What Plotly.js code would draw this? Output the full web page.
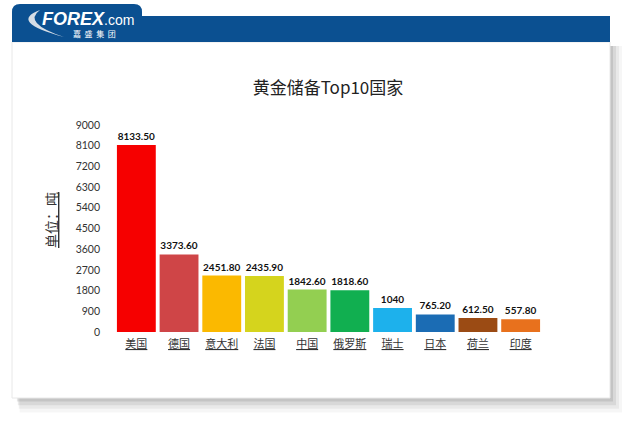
<!DOCTYPE html>
<html>
<head>
<meta charset="utf-8">
<script src="https://cdn.plot.ly/plotly-3.0.1.min.js"></script>
<style>html,body{margin:0;padding:0;background:#fff;}#chart{width:640px;height:428px;}</style>
</head>
<body>
<div id="chart"></div>
<script>
// ---- data ----
var countries = ["美国","德国","意大利","法国","中国","俄罗斯","瑞士","日本","荷兰","印度"];
var reserves = [8133.50, 3373.60, 2451.80, 2435.90, 1842.60, 1818.60, 1040, 765.20, 612.50, 557.80];
var valueLabels = ["8133.50","3373.60","2451.80","2435.90","1842.60","1818.60","1040","765.20","612.50","557.80"];
var barColors = ["#f60000","#cf4547","#fbb900","#d5d41d","#93cf51","#11af50","#1db1ec","#1b6cb4","#9b4b14","#e8711d"];
var yTickVals = [0,900,1800,2700,3600,4500,5400,6300,7200,8100,9000];

// ---- layout helpers (pixel -> paper) ----
var W = 640, H = 428;
var L = 115, R = 98, T = 125, B = 96;
var pw = W - L - R, ph = H - T - B;
function px(x){ return (x - L) / pw; }
function py(y){ return (H - B - y) / ph; }

var shapes = [];
// card shadow (soft)
[[12,0.035],[9,0.05],[6,0.07],[3,0.09]].forEach(function(s){
  shapes.push({type:'rect', xref:'paper', yref:'paper', layer:'below',
    x0:px(16+s[0]*0.3), x1:px(610+s[0]), y0:py(46), y1:py(398+s[0]*1.2),
    fillcolor:'rgba(0,0,0,'+s[1]+')', line:{width:0}});
});
// card
shapes.push({type:'rect', xref:'paper', yref:'paper', layer:'below',
  x0:px(12), x1:px(610), y0:py(42), y1:py(398),
  fillcolor:'#ffffff', line:{color:'#e8e8e8', width:1}});
// blue header bar
shapes.push({type:'rect', xref:'paper', yref:'paper', layer:'below',
  x0:px(12), x1:px(610), y0:py(16), y1:py(42),
  fillcolor:'#0b5091', line:{width:0}});
// logo tab with rounded top corners
(function(){
  var x0=px(12), x1=px(142), yb=py(42), yt=py(4), rx=px(20)-px(12), ry=py(4)-py(12);
  var p = 'M '+x0+','+yb+' L '+x0+','+(yt-ry)+' Q '+x0+','+yt+' '+(x0+rx)+','+yt+
          ' L '+(x1-rx)+','+yt+' Q '+x1+','+yt+' '+x1+','+(yt-ry)+' L '+x1+','+yb+' Z';
  shapes.push({type:'path', xref:'paper', yref:'paper', layer:'below', path:p,
    fillcolor:'#0b5091', line:{width:0}});
  // swoosh
  var s = 'M '+px(40)+','+py(10)+' Q '+px(8)+','+py(22)+' '+px(64)+','+py(37)+
          ' Q '+px(22)+','+py(23)+' '+px(40)+','+py(10)+' Z';
  shapes.push({type:'path', xref:'paper', yref:'paper', layer:'below', path:s,
    fillcolor:'#d5dde6', line:{width:0}});
})();

var annotations = [
  {xref:'paper', yref:'paper', x:px(40), y:py(19), xanchor:'left', yanchor:'middle', showarrow:false,
   text:'<b><i>FOREX</i></b><span style="font-size:14px">.com</span>',
   font:{family:'Liberation Sans, Arial, sans-serif', size:18, color:'#ffffff'}},
  {xref:'paper', yref:'paper', x:px(94), y:py(33), xanchor:'center', yanchor:'middle', showarrow:false,
   text:'嘉  盛  集  团', font:{family:'Noto Sans CJK SC', size:8, color:'#ffffff'}},
  {xref:'paper', yref:'paper', x:px(51), y:py(220), xanchor:'center', yanchor:'middle', showarrow:false,
   textangle:-90, text:'<u>单位：吨</u>', font:{family:'Noto Sans CJK SC', size:14, color:'#333333'}}
];

var trace = {
  type:'bar', x:countries, y:reserves, text:valueLabels,
  textposition:'outside', cliponaxis:false,
  textfont:{family:'Lato, sans-serif', size:10, color:'#111111'},
  texttemplate:'<b>%{text}</b>',
  marker:{color:barColors, line:{width:0}},
  hoverinfo:'none'
};

var layout = {
  width:W, height:H,
  margin:{l:L, r:R, t:T, b:B, pad:0},
  paper_bgcolor:'#ffffff', plot_bgcolor:'rgba(0,0,0,0)',
  showlegend:false,
  bargap:0.09,
  title:{text:'黄金储备Top10国家', xref:'paper', x:px(328), y:1-88/H, xanchor:'center', yanchor:'middle',
         font:{family:'Noto Sans CJK SC', size:17, color:'#222222'}},
  xaxis:{tickvals:countries, ticktext:countries.map(function(c){return '<u>'+c+'</u>';}),
         tickfont:{family:'Noto Sans CJK SC', size:11, color:'#333333'},
         showline:false, showgrid:false, zeroline:false, ticks:'', ticklabelstandoff:4},
  yaxis:{range:[0,9000], tickvals:yTickVals, showgrid:false, zeroline:false, showline:false, ticks:'',
         tickfont:{family:'Lato, sans-serif', size:10.5, color:'#333333'}, ticklabelstandoff:14},
  shapes:shapes,
  annotations:annotations
};

Plotly.newPlot('chart', [trace], layout, {displayModeBar:false, staticPlot:true});
</script>
</body>
</html>
